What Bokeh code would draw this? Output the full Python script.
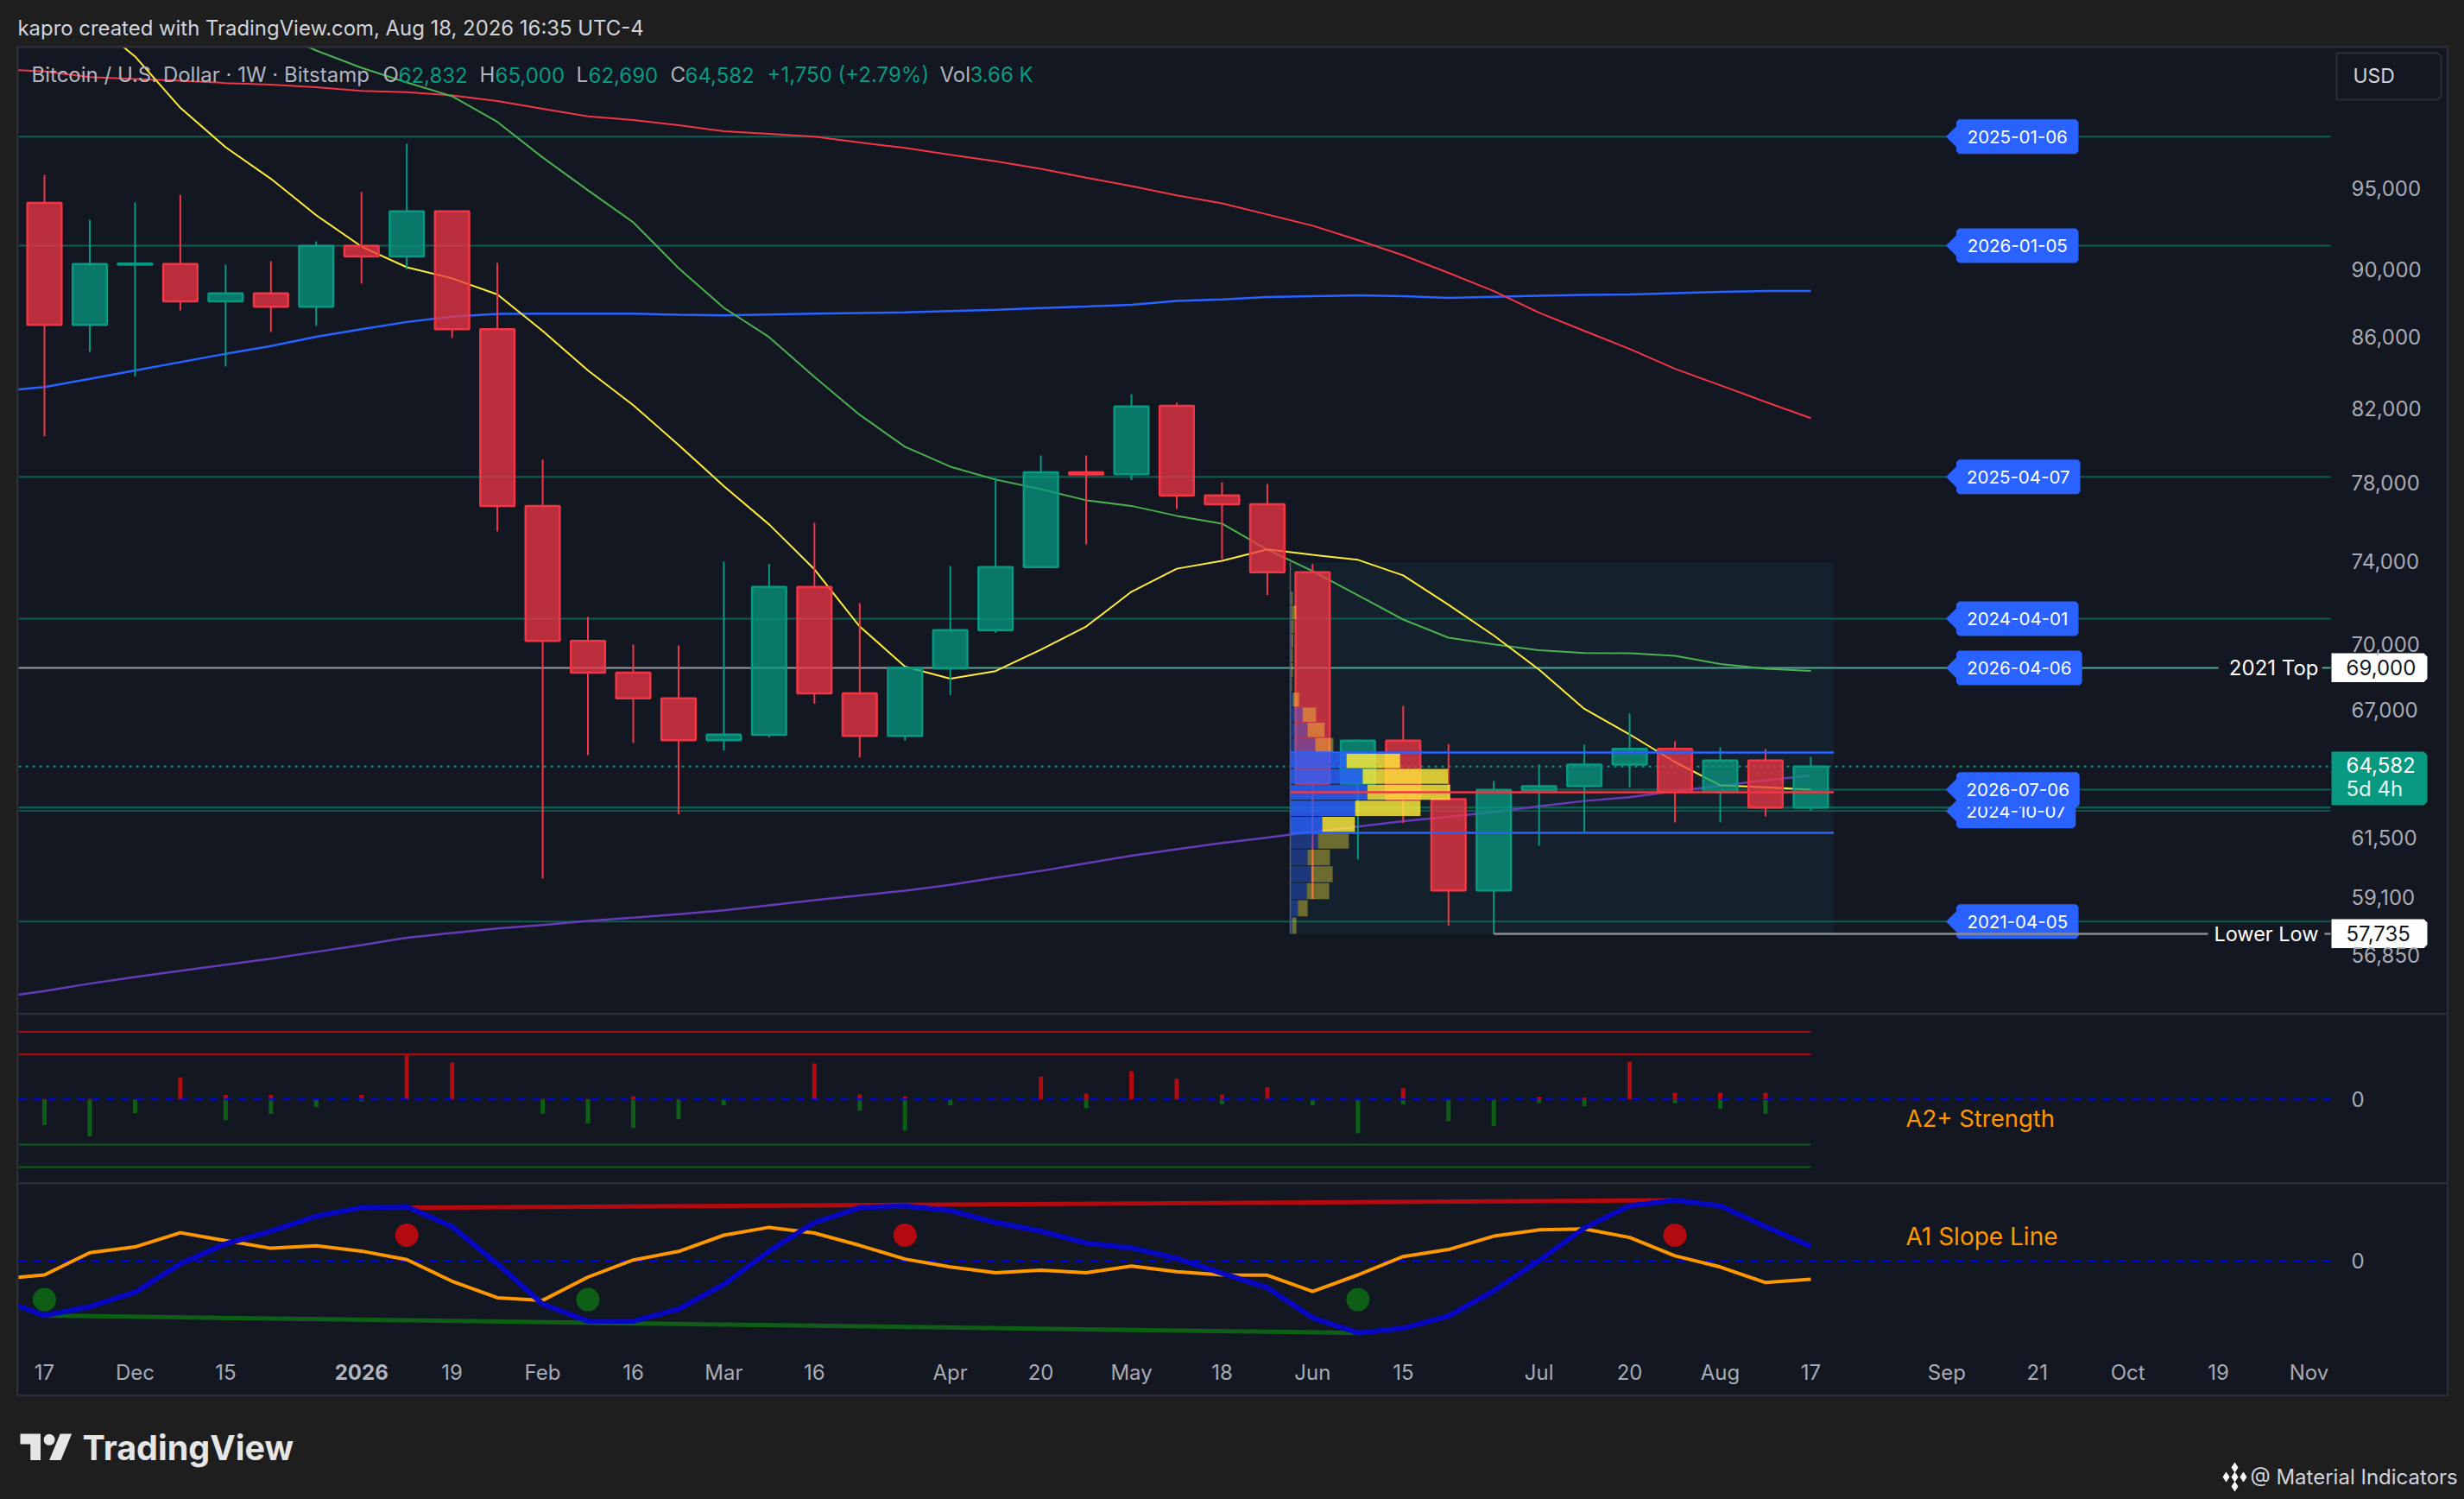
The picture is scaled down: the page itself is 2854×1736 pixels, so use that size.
import numpy as np
from bokeh.core.properties import value
from bokeh.document import Document
from bokeh.embed import file_html
from bokeh.layouts import column
from bokeh.models import (ColumnDataSource, CustomJS, FixedTicker, Label, Range1d)
from bokeh.plotting import figure
from bokeh.resources import INLINE

# ---------- data ----------
opens = [94230,86830,90410,90450,88210,88680,87890,91550,90900,93690,86580,76910,70260,68780,67600,65730,65970,72840,67830,65920,68980,70770,73820,78660,78560,82240,77450,76990,73560,63850,65710,63190,59440,63560,63740,64670,65350,63490,64850,62832]
highs = [96020,93170,94260,94750,90410,90620,91830,94920,98040,93700,90510,79330,71400,70090,70050,74090,73970,76050,72060,69050,73880,78370,79560,79560,82890,82420,78140,78050,73980,65760,67270,65570,63960,64670,65540,66920,65690,65420,65350,65000]
lows = [80580,85280,83880,87680,84440,86420,86770,89260,90120,86070,75610,59920,65080,65610,62550,65290,65860,67360,64980,65710,67750,70640,73790,74950,78250,76750,74220,72450,59100,60680,62190,58050,57735,61250,61820,63680,62210,62210,62460,62690]
closes = [86830,90450,90470,88210,88680,87890,91550,90900,93690,86580,76910,70260,68780,67600,65730,65980,72840,67830,65920,69000,70770,73820,78660,78550,82210,77450,76990,73560,63850,65710,63190,59440,63580,63740,64670,65350,63490,64850,62832,64582]

ma_yellow_i = list(range(1, 40))
ma_yellow = [106560,103940,100430,97810,95760,93450,91510,90250,89580,88620,86480,84220,82280,80120,77940,75960,73710,70940,69060,68500,68850,69850,70940,72610,73740,74130,74700,74430,74180,73410,71980,70510,68920,67130,65990,64780,63780,63690,63590]
ma_green_i = list(range(5, 40))
ma_green = [105760,104360,103160,102150,101210,99480,97140,95030,93010,90200,87830,86120,83860,81750,80020,78960,78280,77780,77200,76910,76400,76000,74690,73620,72440,71270,70410,70090,69820,69690,69680,69560,69180,68960,68860]
ma_i = list(range(-1, 40))
ma_red = [103050,102900,102520,102390,102270,102110,102000,101820,101570,101480,101270,100880,100360,99860,99610,99260,98860,98690,98500,98120,97770,97320,96890,96410,95830,95300,94700,94200,93500,92800,91910,90970,89910,88820,87540,86480,85440,84310,83390,82460,81570]
ma_blue = [83050,83290,83750,84220,84690,85160,85610,86140,86580,87000,87310,87470,87490,87490,87490,87420,87390,87440,87490,87530,87560,87640,87720,87820,87910,88010,88230,88330,88460,88520,88570,88520,88420,88480,88540,88600,88620,88700,88780,88820,88820]
ma_purple = [55330,55560,55840,56090,56320,56550,56780,57040,57300,57580,57770,57940,58080,58240,58360,58500,58650,58850,59050,59240,59430,59660,59950,60220,60530,60840,61100,61360,61580,61820,62040,62260,62440,62640,62890,63110,63270,63530,63760,63990,64200]

price_ticks = [95000,90000,86000,82000,78000,74000,70000,67000,61500,59100,56850]
price_tick_labels = ["95,000","90,000","86,000","82,000","78,000","74,000","70,000","67,000","61,500","59,100","56,850"]
date_ticks = [0,2,4,7,9,11,13,15,17,20,22,24,26,28,30,33,35,37,39,42,44,46,48,50]
date_labels = ["17","Dec","15","","19","Feb","16","Mar","16","Apr","20","May","18","Jun","15","Jul","20","Aug","17","Sep","21","Oct","19","Nov"]

level_prices = [98510,91570,78420,71310,62832,62690,58210]
level_widths = [2,2,2,2,2.4,1.6,2]
tag_texts = ["2025-01-06","2026-01-05","2025-04-07","2024-04-01","2024-10-07","2021-04-05","2026-04-06","2026-07-06"]
tag_prices = [98510,91570,78420,71310,62690,58210,69000,63590]
tag_rights = [44.91,44.91,44.95,44.91,44.85,44.91,44.99,44.93]

vp_low = [57735,58413,59091,59769,60447,61125,61803,62481,63159,63837,64515,65193,65871,66549,67227,67905,68583,69261,69939,70617,71295,71973]
vp_up = [2.2,8.9,19.2,24.1,20.1,32.1,37,75,89.3,83.9,65.2,29,20.1,14.3,2.8,1,1,1,1,1,1,1]
vp_down = [4.9,11.2,25.9,25,25.9,35.7,37.9,75.9,96,98.7,62,21,19.6,15.6,7.4,1,2,2,2.5,3,6,2]
va_low, va_high, poc = 61780, 65195, 63480
range_low, range_high = 57735, 74060

a2_pos = [.01,.01,0,.49,.10,.10,.01,.10,.98,.82,0,.01,.01,.07,.01,0,.01,.80,.11,.07,0,.01,.51,.13,.63,.46,.11,.27,0,.01,.25,0,.01,.06,.04,.84,.15,.15,.15,0]
a2_neg = [-.57,-.82,-.30,0,-.46,-.32,-.17,-.04,0,0,0,-.32,-.53,-.63,-.44,-.13,0,0,-.25,-.69,-.13,0,0,-.19,0,0,-.11,0,-.13,-.75,-.11,-.48,-.59,-.08,-.15,0,-.08,-.21,-.32,0]
a2_levels_red = [1.0, 1.5]
a2_levels_green = [-1.0, -1.5]

a1_blue = [-44.1,-63.2,-52.9,-36.4,-3.3,19.8,34.5,51.8,61.7,62.8,39.7,-3.3,-50.0,-69.8,-69.8,-55.8,-27.2,11.4,44.5,61.7,63.6,58.4,44.5,34.5,20.6,15.1,2.9,-14.3,-30.9,-65.8,-83.4,-77.9,-63.9,-34.5,0.4,38.2,63.9,70.2,63.9,39.7,16.9]
a1_orange = [-20.9,-16.2,9.6,16.2,32.7,23.5,14.7,17.6,11.4,1.5,-23.5,-42.6,-45.6,-18.7,1.1,11.0,29.8,38.9,32.3,18.0,2.2,-7.0,-13.6,-10.7,-13.6,-5.9,-12.5,-16.2,-16.5,-35.3,-16.2,5.1,13.2,28.7,36.0,37.1,27.2,5.9,-7.0,-25.0,-21.3]
a1_red_trend_i, a1_red_trend = [8, 36], [61.7, 70.2]
a1_green_trend_i, a1_green_trend = [0, 29], [-63.2, -83.4]
a1_red_dots_i, a1_green_dots_i = [8, 19, 36], [0, 12, 29]
a1_red_dot, a1_green_dot = 29.8, -44.8

legend_items = [("Bitcoin / U.S. Dollar · 1W · Bitstamp",36,"#b2b5be"),("O",443,"#b2b5be"),("62,832",461,"#089981"),("H",555,"#b2b5be"),("65,000",573,"#089981"),("L",667,"#b2b5be"),("62,690",681,"#089981"),("C",776,"#b2b5be"),("64,582",793,"#089981"),("+1,750 (+2.79%)",888,"#089981"),("Vol",1088,"#b2b5be"),("3.66 K",1123,"#089981")]

# ---------- layout constants ----------
BG, PAGE, EDGE = "#131722", "#1e1e1e", "#2a2e39"
UP, DOWN = "#089981", "#f23645"
FONT = "Inter"
K = 1728.0               # pixels per log unit of the price pane
PX = 52.46               # pixels per bar
XL, XR = -0.572, 50.477  # plotted span; the price scale sits right of XR
x_range = Range1d(XL, 53.05)
def px_to_i(px):
    return (px - 51) / PX
def shift(price, dpx):
    return price * np.exp(dpx / K)
def y_to_price(y):
    return 69000 * np.exp((773 - y) / K)

def pane(height, y_range, y_type="linear", margin=(0, 2, 2, 2), x_loc=None):
    f = figure(width=2813, height=height, x_range=x_range, y_range=y_range, y_axis_type=y_type,
               y_axis_location="right", x_axis_location=x_loc, output_backend="svg", toolbar_location=None,
               min_border=0, background_fill_color=BG, border_fill_color=BG, outline_line_color=None, margin=margin)
    f.grid.visible = False
    ax = f.yaxis[0]
    ax.fixed_location = XR
    ax.axis_line_color = None
    ax.major_tick_line_color = None
    ax.minor_tick_line_color = None
    ax.major_label_standoff = 18
    ax.major_label_text_font = FONT
    ax.major_label_text_font_size = "24px"
    ax.major_label_text_color = "#a8abb3"
    return f

# ---------- price pane ----------
p1 = pane(1118, Range1d(54740, 104540), "log", margin=(2, 2, 2, 2))
# the scale's text sits about 2.5 px above its true level, as in the reference
tick_pos = [int(round(shift(v, 2.5))) for v in price_ticks]
p1.yaxis[0].ticker = FixedTicker(ticks=tick_pos)
p1.yaxis[0].major_label_overrides = dict(zip(tick_pos, price_tick_labels))

vp_left = px_to_i(1494)
vp_right = px_to_i(2123.6)
p1.quad(left=[vp_left], right=[vp_right], top=[range_high], bottom=[range_low], fill_color="#14202b", line_color=None)

for pr, w in zip(level_prices, level_widths):
    p1.line([XL, XR], [pr, pr], line_color="#0f5d50", line_width=w)
p1.line([33, XR], [63590, 63590], line_color="#0f5d50", line_width=2)
p1.line([XL, 20], [69000, 69000], line_color="#9a9ca1", line_width=2)
p1.line([20, px_to_i(2569)], [69000, 69000], line_color="#4fa898", line_width=2)
p1.line([px_to_i(2689), XR], [69000, 69000], line_color="#4fa898", line_width=2)
p1.line([XL, XR], [closes[-1], closes[-1]], line_color=UP, line_width=2, line_dash="3 5")

p1.line(ma_i, ma_purple, line_color="#673ab7", line_width=2.5)
p1.line(ma_i, ma_blue, line_color="#2962ff", line_width=2.5)
p1.line(ma_i, ma_red, line_color=DOWN, line_width=2)
p1.line(ma_green_i, ma_green, line_color="#4caf50", line_width=2)
p1.line(ma_yellow_i, ma_yellow, line_color="#ffeb3b", line_width=2)

idx = np.arange(len(opens))
o, h, l, c = map(np.array, (opens, highs, lows, closes))
col = [UP if b >= a else DOWN for a, b in zip(opens, closes)]
cs = ColumnDataSource(dict(x=idx, top=np.maximum(o, c), bottom=np.minimum(o, c), high=h, low=l, col=col))
p1.segment("x", "high", "x", "top", source=cs, line_color="col", line_width=2)
p1.segment("x", "bottom", "x", "low", source=cs, line_color="col", line_width=2)
p1.vbar("x", 0.755, "top", "bottom", source=cs, fill_color="col", fill_alpha=0.75, line_color="col", line_width=2.5)

low = np.array(vp_low, dtype=float)
up = np.array(vp_up) / PX
down = np.array(vp_down) / PX
alpha = [0.82 if va_low <= v + 100 and v + 600 <= va_high + 100 else 0.38 for v in vp_low]
p1.segment([vp_left], [range_high], [vp_left], [range_low], line_color="#5a5f66", line_width=1.5)
vs = ColumnDataSource(dict(b=low, t=low + 640, l0=np.full(len(low), vp_left), l1=vp_left + up, l2=vp_left + up + down, a=alpha))
p1.quad(left="l0", right="l1", top="t", bottom="b", source=vs, fill_color="#2962ff", fill_alpha="a", line_color=None)
p1.quad(left="l1", right="l2", top="t", bottom="b", source=vs, fill_color="#ffeb3b", fill_alpha="a", line_color=None)
for pr, colr in ((va_high, "#2962ff"), (va_low, "#2962ff"), (poc, DOWN)):
    p1.line([vp_left, vp_right], [pr, pr], line_color=colr, line_width=2.5)

tl, tt = px_to_i(2265.5), px_to_i(2253.4)
tag_xs, tag_ys = [], []
for pr, r in zip(tag_prices, tag_rights):
    c_dx = 3 / PX
    tag_xs.append([tt, tl, tl, tl + c_dx, r - c_dx, r, r, r - c_dx, tl + c_dx, tl, tl])
    tag_ys.append([pr] + [shift(pr, d) for d in (12, 17, 20, 20, 17, -17, -20, -20, -17, -12)])
TAGFONT = "20.5px"
p1.patches(tag_xs, tag_ys, fill_color="#2962ff", line_color=None)
p1.text([(tl + r) / 2 for r in tag_rights], tag_prices, tag_texts, text_color="#ffffff", text_font=value(FONT),
        text_font_size=TAGFONT, text_align="center", text_baseline="middle")
# the July tag sits on top of the October one
i_top = tag_texts.index("2026-07-06")
p1.patches([tag_xs[i_top]], [tag_ys[i_top]], fill_color="#2962ff", line_color=None)
p1.text([(tl + tag_rights[i_top]) / 2], [tag_prices[i_top]], [tag_texts[i_top]], text_color="#ffffff",
        text_font=value(FONT), text_font_size=TAGFONT, text_align="center", text_baseline="middle")
p1.line([32, px_to_i(2557)], [57735, 57735], line_color="#8a8c90", line_width=2.5)
p1.line([px_to_i(2692), XR], [57735, 57735], line_color="#8a8c90", line_width=2.5)

p1.text([px_to_i(2685)], [69000], ["2021 Top"], text_color="#ffffff", text_font=value(FONT), text_font_size="24px",
        text_align="right", text_baseline="middle")
p1.text([px_to_i(2685)], [57735], ["Lower Low"], text_color="#ffffff", text_font=value(FONT), text_font_size="23.5px",
        text_align="right", text_baseline="middle")

for text, x, colr in legend_items:
    p1.add_layout(Label(x=x - 21, y=1173 - 86, x_units="screen", y_units="screen", text=text, text_color=colr,
                        text_font=FONT, text_font_size="24px", text_baseline="middle", text_align="left"))

# boxes on the price scale
bl, br = px_to_i(2700), px_to_i(2811)
def box(y_top, y_bot, fill, line=None, left=bl, right=br):
    t, b = y_to_price(y_top), y_to_price(y_bot)
    cx, cy = 4 / PX, 4
    p1.patch([left, right - cx, right, right, right - cx, left],
             [t, t, y_to_price(y_top + cy), y_to_price(y_bot - cy), b, b],
             fill_color=fill, line_color=line, line_width=2)
box(756, 789.6, "#ffffff")
box(1064, 1097.5, "#ffffff")
box(870, 932, UP)
for text, pr, colr in (("69,000", 69000, "#131722"), ("57,735", 57735, "#131722"), ("64,582", y_to_price(886), "#ffffff"), ("5d 4h", y_to_price(913), "#e3f3ef")):
    p1.text([px_to_i(2717)], [pr], [text], text_color=colr, text_font=value(FONT), text_font_size="24px", text_baseline="middle")
box(61, 115, BG, EDGE, left=px_to_i(2706), right=px_to_i(2827))
p1.text([px_to_i(2725)], [y_to_price(88)], ["USD"], text_color="#d1d4dc", text_font=value(FONT), text_font_size="23px", text_baseline="middle")

# ---------- A2+ Strength pane ----------
p2 = pane(194, Range1d(-1.843, 1.874))
p2.yaxis[0].ticker = FixedTicker(ticks=[0])
for lv in a2_levels_red:
    p2.line([XL, 39], [lv, lv], line_color="#a80c12", line_width=2.2)
for lv in a2_levels_green:
    p2.line([XL, 39], [lv, lv], line_color="#0d5c16", line_width=2.2)
p2.vbar(idx, 0.095, a2_pos, 0, fill_color="#b20a0f", line_color=None)
p2.vbar(idx, 0.095, 0, a2_neg, fill_color="#0e5f15", line_color=None)
p2.line([XL, XR], [0, 0], line_color="#0000ff", line_width=2, line_dash="9 8")
p2.text([px_to_i(2207)], [-0.42], ["A2+ Strength"], text_color="#ff9800", text_font=value(FONT), text_font_size="27.5px",
        text_baseline="middle")

# ---------- A1 Slope Line pane ----------
p3 = pane(244, Range1d(-155.2, 88.8), x_loc="below")
p3.yaxis[0].ticker = FixedTicker(ticks=[0])
xa = p3.xaxis[0]
xa.fixed_location = -106.2
xa.ticker = FixedTicker(ticks=date_ticks)
xa.major_label_overrides = dict(zip(date_ticks, date_labels))
xa.axis_line_color = None
xa.major_tick_line_color = None
xa.minor_tick_line_color = None
xa.major_label_standoff = 2
xa.major_label_text_font = FONT
xa.major_label_text_font_size = "24px"
xa.major_label_text_color = "#a8abb3"
p3.line([XL, XR], [0, 0], line_color="#0000ff", line_width=2, line_dash="9 8")
p3.line(a1_red_trend_i, a1_red_trend, line_color="#b20a0f", line_width=5)
p3.line(a1_green_trend_i, a1_green_trend, line_color="#0e5f15", line_width=5)
p3.line(ma_i, a1_orange, line_color="#ff9800", line_width=4)
p3.line(ma_i, a1_blue, line_color="#0808c0", line_width=6)
p3.scatter(a1_red_dots_i, [a1_red_dot] * 3, size=27, fill_color="#b20a0f", line_color=None)
p3.scatter(a1_green_dots_i, [a1_green_dot] * 3, size=27, fill_color="#0e5f15", line_color=None)
p3.text([px_to_i(2207)], [28], ["A1 Slope Line"], text_color="#ff9800", text_font=value(FONT), text_font_size="28px",
        text_baseline="middle")
p3.text([7], [-129], ["2026"], text_color="#b2b5be", text_font=value(FONT), text_font_size="24px",
        text_font_style="bold", text_align="center", text_baseline="middle")

# ---------- page header and footer ----------
def strip(height, y0, y1):
    f = figure(width=2838, height=height, x_range=(8, 2846), y_range=(y1, y0), x_axis_location=None, y_axis_location=None,
               output_backend="svg", toolbar_location=None, min_border=0, background_fill_color=PAGE,
               border_fill_color=PAGE, outline_line_color=None, margin=0)
    f.grid.visible = False
    return f

head = strip(45, 8, 53)
head.text([20], [32], ["kapro created with TradingView.com, Aug 18, 2026 16:35 UTC-4"], text_color="#d1d4dc",
          text_font=value(FONT), text_font_size="23.9px", text_baseline="middle")

foot = strip(111, 1617, 1728)
lx = lambda u: [23 + 1.68 * v for v in u]
ly = lambda u: [1660 + 1.7 * (v - 4) for v in u]
logo = "#e6e6e6"
foot.patch(lx([14, 7, 7, 0, 0, 14]), ly([22, 22, 11, 11, 4, 4]), fill_color=logo, line_color=None)
foot.patch(lx([28, 20, 27.5, 35.5]), ly([22, 22, 4, 4]), fill_color=logo, line_color=None)
foot.scatter(lx([20]), ly([8]), size=13, fill_color=logo, line_color=None)
foot.text([95], [1676], ["TradingView"], text_color=logo, text_font=value(FONT), text_font_size="39.5px",
          text_font_style="bold", text_baseline="middle")
foot.scatter([2588, 2588, 2578, 2598, 2588], [1699, 1721, 1710, 1710, 1710], marker="diamond", size=12, fill_color="#ffffff",
             line_color=None)
foot.text([2606], [1710], ["@ Material Indicators"], text_color="#d1d4dc", text_font=value(FONT), text_font_size="24px",
          text_baseline="middle")

chart = column(p1, p2, p3, spacing=0, margin=(0, 0, 0, 11), styles={"background-color": EDGE})
page = column(head, chart, foot, spacing=0, margin=(8, 0, 0, 8))
p = Document()
p.add_root(page)
p.js_on_event("document_ready", CustomJS(code="document.body.style.background='#1e1e1e';document.documentElement.style.background='#1e1e1e';"))
open("out.html", "w").write(file_html(p, INLINE))
